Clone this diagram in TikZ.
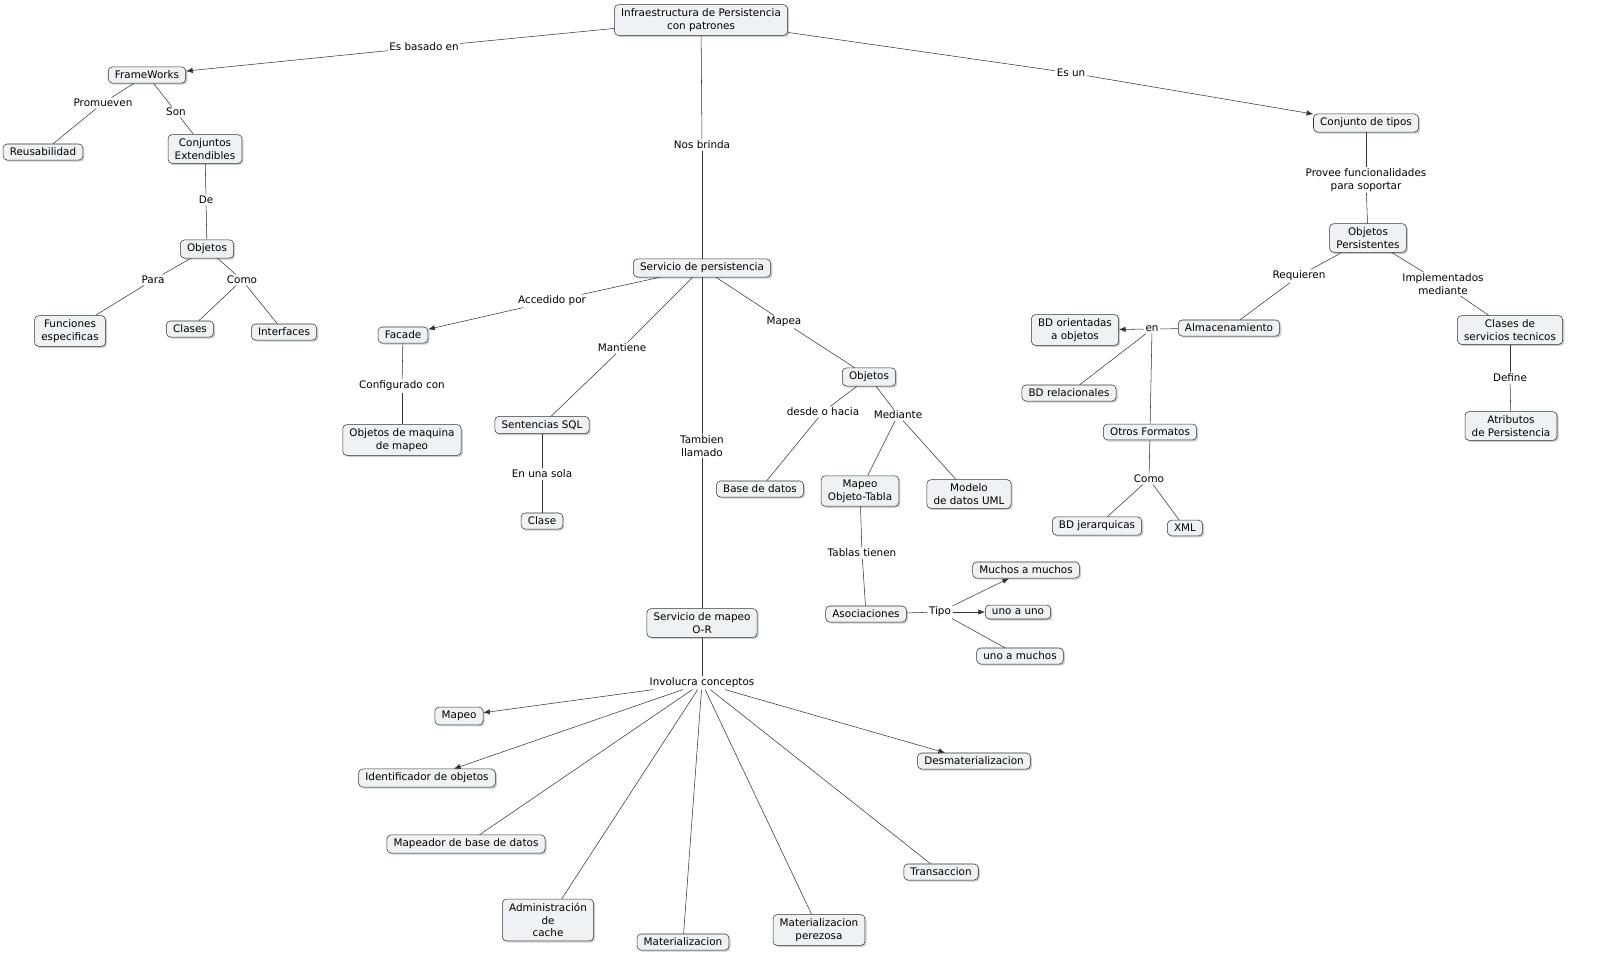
\documentclass[tikz,border=0pt]{standalone}
\usepackage{fontspec}
\setmainfont{DejaVu Sans}
\usetikzlibrary{shadows,arrows.meta}
\definecolor{boxfill}{HTML}{EEF2F5}
\tikzset{
  concept/.style={draw=black!80,fill=boxfill,rounded corners=3pt,align=center,
    inner xsep=5pt,inner ysep=3pt,font=\fontsize{7.8}{9.5}\selectfont,
    drop shadow={shadow xshift=1.2pt,shadow yshift=-1.2pt,fill=black!40}},
  phrase/.style={fill=white,align=center,inner sep=1pt,font=\fontsize{7.8}{9.5}\selectfont},
  link/.style={draw=black!80,thin},
  arr/.style={link,-{Latex[length=5pt,width=4pt]}}
}
\begin{document}
\begin{tikzpicture}[x=0.75pt,y=-0.75pt]
  \useasboundingbox (0,0) rectangle (1600,976);
  % concepts
  \node[concept] (title) at (701,20) {Infraestructura de Persistencia\\con patrones};
  \node[concept] (fw) at (147,75) {FrameWorks};
  \node[concept] (reus) at (43,152) {Reusabilidad};
  \node[concept] (conj) at (205,149) {Conjuntos\\Extendibles};
  \node[concept] (obja) at (207,249) {Objetos};
  \node[concept] (func) at (70,331) {Funciones\\especificas};
  \node[concept] (clases) at (190,329) {Clases};
  \node[concept] (interf) at (284,332) {Interfaces};
  \node[concept] (serv) at (702,268) {Servicio de persistencia};
  \node[concept] (facade) at (403,335) {Facade};
  \node[concept] (omm) at (402,440) {Objetos de maquina\\de mapeo};
  \node[concept] (sql) at (542,425) {Sentencias SQL};
  \node[concept] (clase) at (542,521) {Clase};
  \node[concept] (objb) at (869,377) {Objetos};
  \node[concept] (bd) at (760,489) {Base de datos};
  \node[concept] (mot) at (860,491) {Mapeo\\Objeto-Tabla};
  \node[concept] (uml) at (969,494) {Modelo\\de datos UML};
  \node[concept] (asoc) at (866,614) {Asociaciones};
  \node[concept] (mm) at (1026,570) {Muchos a muchos};
  \node[concept] (uu) at (1018,612) {uno a uno};
  \node[concept] (um) at (1020,656) {uno a muchos};
  \node[concept] (smap) at (702,623) {Servicio de mapeo\\O-R};
  \node[concept] (mapeo) at (459,716) {Mapeo};
  \node[concept] (ident) at (427,778) {Identificador de objetos};
  \node[concept] (mbd) at (466,844) {Mapeador de base de datos};
  \node[concept] (adm) at (548,920) {Administración\\de\\cache};
  \node[concept] (mat) at (683,942) {Materializacion};
  \node[concept] (matp) at (819,930) {Materializacion\\perezosa};
  \node[concept] (trans) at (941,872) {Transaccion};
  \node[concept] (desm) at (974,761) {Desmaterializacion};
  \node[concept] (ctipos) at (1366,123) {Conjunto de tipos};
  \node[concept] (objp) at (1368,238) {Objetos\\Persistentes};
  \node[concept] (alm) at (1229,328) {Almacenamiento};
  \node[concept] (bdoo) at (1075,330) {BD orientadas\\a objetos};
  \node[concept] (bdrel) at (1069,393) {BD relacionales};
  \node[concept] (otros) at (1150,432) {Otros Formatos};
  \node[concept] (bdj) at (1097,526) {BD jerarquicas};
  \node[concept] (xml) at (1185,528) {XML};
  \node[concept] (cst) at (1510,330) {Clases de\\servicios tecnicos};
  \node[concept] (atr) at (1511,426) {Atributos\\de Persistencia};
  % linking phrases
  \node[phrase] (basado) at (424,47) {Es basado en};
  \node[phrase] (esun) at (1071,73) {Es un};
  \node[phrase] (brinda) at (702,145) {Nos brinda};
  \node[phrase] (promueven) at (103,103) {Promueven};
  \node[phrase] (son) at (176,112) {Son};
  \node[phrase] (de) at (206,200) {De};
  \node[phrase] (para) at (153,280) {Para};
  \node[phrase] (comoa) at (242,280) {Como};
  \node[phrase] (accedido) at (552,301) {Accedido por};
  \node[phrase] (mantiene) at (622,348) {Mantiene};
  \node[phrase] (mapea) at (784,322) {Mapea};
  \node[phrase] (config) at (402,386) {Configurado con};
  \node[phrase] (sola) at (542,474) {En una sola};
  \node[phrase] (llamado) at (702,446) {Tambien\\llamado};
  \node[phrase] (desde) at (823,412) {desde o hacia};
  \node[phrase] (mediante) at (898,415) {Mediante};
  \node[phrase] (tablas) at (862,553) {Tablas tienen};
  \node[phrase] (tipo) at (940,612) {Tipo};
  \node[phrase] (involucra) at (702,683) {Involucra conceptos};
  \node[phrase] (provee) at (1366,180) {Provee funcionalidades\\para soportar};
  \node[phrase] (requieren) at (1299,276) {Requieren};
  \node[phrase] (implem) at (1443,284) {Implementados\\mediante};
  \node[phrase] (en) at (1152,329) {en};
  \node[phrase] (comob) at (1149,479) {Como};
  \node[phrase] (define) at (1510,378) {Define};
  % connectors
  \foreach \a/\b in {title/basado,title/esun,title/brinda,brinda/serv,fw/promueven,promueven/reus,
      fw/son,son/conj,conj/de,de/obja,obja/para,para/func,obja/comoa,comoa/clases,comoa/interf,
      serv/accedido,serv/mantiene,mantiene/sql,serv/mapea,mapea/objb,facade/config,config/omm,
      sql/sola,sola/clase,serv/llamado,llamado/smap,objb/desde,desde/bd,objb/mediante,
      mediante/mot,mediante/uml,mot/tablas,tablas/asoc,asoc/tipo,tipo/um,smap/involucra,
      involucra/mbd,involucra/adm,involucra/mat,involucra/matp,involucra/trans,
      ctipos/provee,provee/objp,objp/requieren,requieren/alm,objp/implem,implem/cst,
      alm/en,en/bdrel,en/otros,otros/comob,comob/bdj,comob/xml,cst/define,define/atr}
    \draw[link] (\a) -- (\b);
  \foreach \a/\b in {basado/fw,esun/ctipos,accedido/facade,tipo/mm,tipo/uu,en/bdoo,
      involucra/mapeo,involucra/ident,involucra/desm}
    \draw[arr] (\a) -- (\b);
\end{tikzpicture}
\end{document}
